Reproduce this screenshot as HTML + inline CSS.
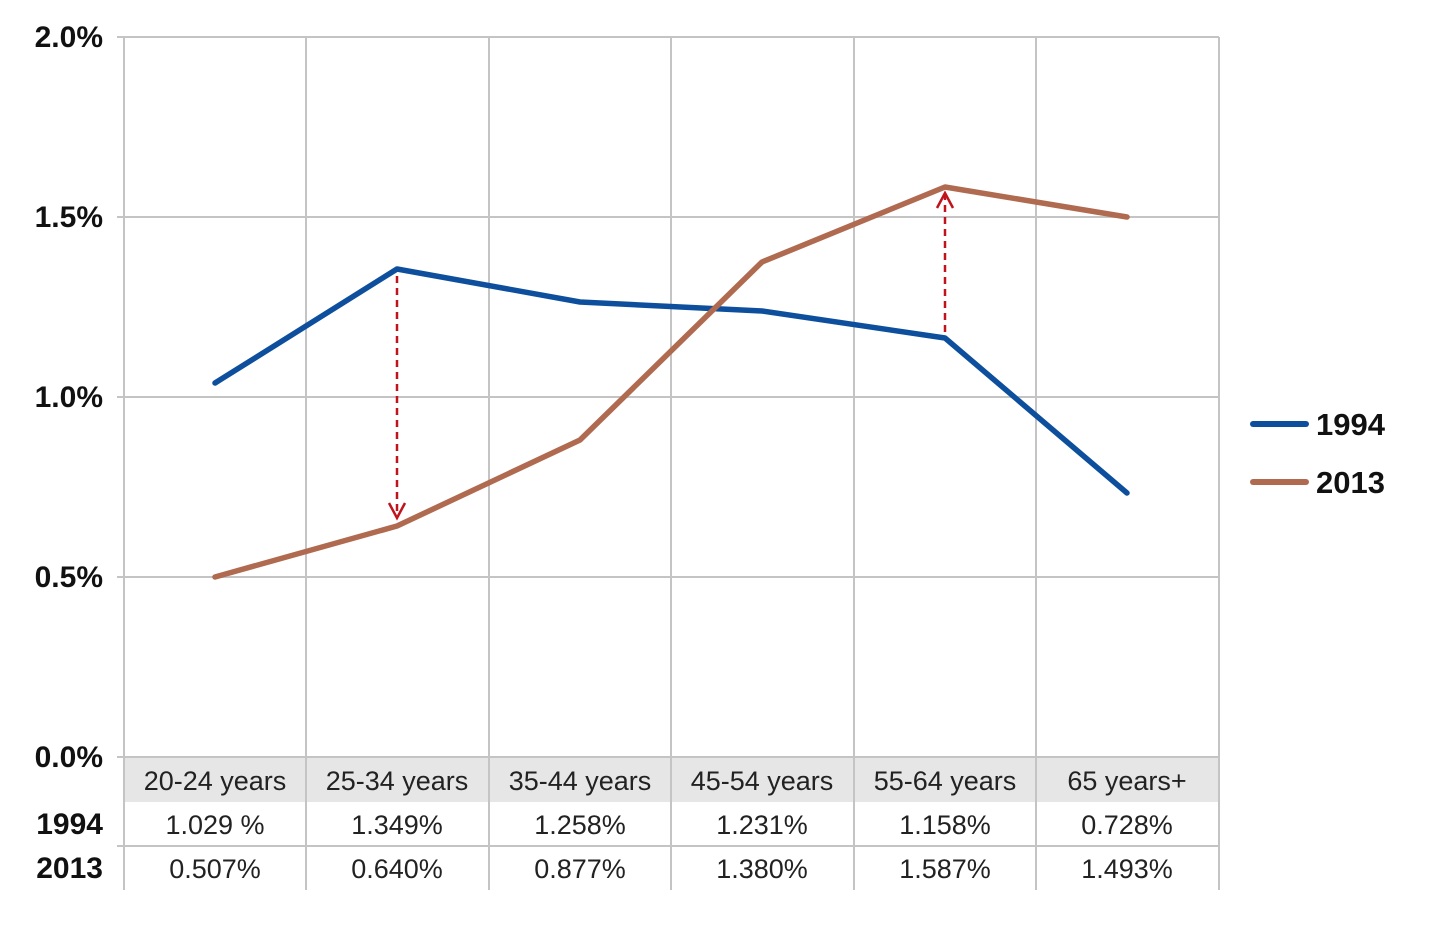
<!DOCTYPE html>
<html><head><meta charset="utf-8"><style>body{margin:0;background:#fff}svg{display:block}text{font-family:"Liberation Sans",sans-serif}</style></head><body>
<svg width="1440" height="946" xmlns="http://www.w3.org/2000/svg">
<rect x="123" y="757" width="1096" height="45" fill="#e6e6e6"/>
<g stroke="#c4c4c4" stroke-width="2">
<line x1="117" y1="37" x2="1219" y2="37"/><line x1="117" y1="217" x2="1219" y2="217"/><line x1="117" y1="397" x2="1219" y2="397"/><line x1="117" y1="577" x2="1219" y2="577"/>
<line x1="117" y1="757" x2="1219" y2="757"/><line x1="117" y1="846" x2="1219" y2="846"/>
<line x1="124" y1="37" x2="124" y2="890"/><line x1="306" y1="37" x2="306" y2="890"/><line x1="489" y1="37" x2="489" y2="890"/><line x1="671" y1="37" x2="671" y2="890"/><line x1="854" y1="37" x2="854" y2="890"/><line x1="1036" y1="37" x2="1036" y2="890"/><line x1="1219" y1="37" x2="1219" y2="890"/>
</g>
<g font-size="30" font-weight="bold" text-anchor="end" fill="#111">
<text x="103" y="47">2.0%</text><text x="103" y="227">1.5%</text><text x="103" y="407">1.0%</text><text x="103" y="587">0.5%</text><text x="103" y="767">0.0%</text>
<text x="103" y="834">1994</text><text x="103" y="878">2013</text>
</g>
<g font-size="27" text-anchor="middle" fill="#222">
<text x="215" y="790">20-24 years</text><text x="397" y="790">25-34 years</text><text x="580" y="790">35-44 years</text><text x="762" y="790">45-54 years</text><text x="945" y="790">55-64 years</text><text x="1127" y="790">65 years+</text>
<text x="215" y="834">1.029 %</text><text x="397" y="834">1.349%</text><text x="580" y="834">1.258%</text><text x="762" y="834">1.231%</text><text x="945" y="834">1.158%</text><text x="1127" y="834">0.728%</text>
<text x="215" y="878">0.507%</text><text x="397" y="878">0.640%</text><text x="580" y="878">0.877%</text><text x="762" y="878">1.380%</text><text x="945" y="878">1.587%</text><text x="1127" y="878">1.493%</text>
</g>
<polyline points="215,383 397,269 580,302 762,311 945,338 1127,493" fill="none" stroke="#0d4f9c" stroke-width="5.5" stroke-linejoin="round" stroke-linecap="round"/>
<polyline points="215,577 397,526 580,440 762,262 945,187 1127,217" fill="none" stroke="#b06a50" stroke-width="5.5" stroke-linejoin="round" stroke-linecap="round"/>
<g stroke="#c0141c" stroke-width="2.5" fill="none">
<line x1="397" y1="276" x2="397" y2="516" stroke-dasharray="7,5"/><polyline points="389,503 397,518 405,503"/>
<line x1="945" y1="332" x2="945" y2="195" stroke-dasharray="7,5"/><polyline points="937,208 945,193 953,208"/>
</g>
<line x1="1253" y1="424" x2="1306" y2="424" stroke="#0d4f9c" stroke-width="6" stroke-linecap="round"/>
<line x1="1253" y1="482" x2="1306" y2="482" stroke="#b06a50" stroke-width="6" stroke-linecap="round"/>
<g font-size="31" font-weight="bold" fill="#111"><text x="1316" y="435">1994</text><text x="1316" y="493">2013</text></g>
</svg>
</body></html>
